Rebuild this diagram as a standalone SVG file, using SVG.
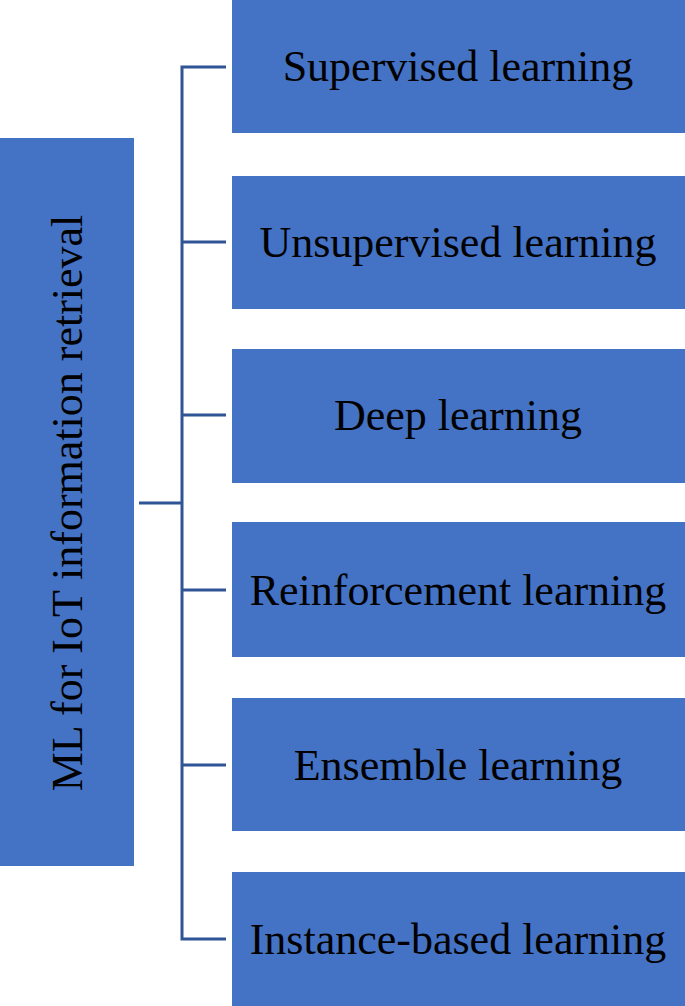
<svg xmlns="http://www.w3.org/2000/svg" width="685" height="1006" viewBox="0 0 685 1006">
<style>
.box{fill:#4472C4;}
.lbl{font-family:"Liberation Serif","Times New Roman",serif;font-size:44px;fill:#000;text-anchor:middle;dominant-baseline:central;}
.con{stroke:#2F5597;stroke-width:3;fill:none;}
</style>
<g id="connectors">
<path class="con" d="M139 503 H182 M226 67 H182 V939 H226 M182 242 H226 M182 415 H226 M182 590 H226 M182 765 H226"/>
</g>
<g id="root">
<rect class="box" x="0" y="138" width="134" height="728"/>
<text class="lbl" transform="translate(67 503) rotate(-90)">ML for IoT information retrieval</text>
</g>
<g id="n1"><rect class="box" x="232" y="0" width="453" height="133"/><text class="lbl" x="458" y="66">Supervised learning</text></g>
<g id="n2"><rect class="box" x="232" y="176" width="453" height="133"/><text class="lbl" x="458" y="242">Unsupervised learning</text></g>
<g id="n3"><rect class="box" x="232" y="349" width="453" height="134"/><text class="lbl" x="458" y="415">Deep learning</text></g>
<g id="n4"><rect class="box" x="232" y="522" width="453" height="135"/><text class="lbl" x="458" y="590">Reinforcement learning</text></g>
<g id="n5"><rect class="box" x="232" y="698" width="453" height="133"/><text class="lbl" x="458" y="765">Ensemble learning</text></g>
<g id="n6"><rect class="box" x="232" y="872" width="453" height="134"/><text class="lbl" x="458" y="939">Instance-based learning</text></g>
</svg>
